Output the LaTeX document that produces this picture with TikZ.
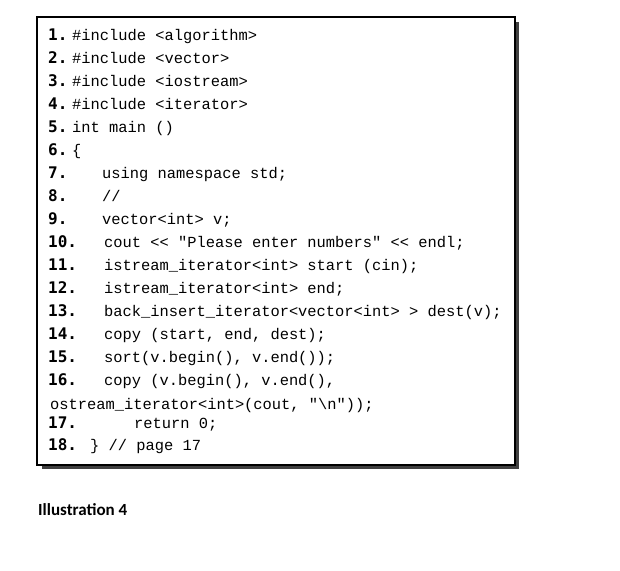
\documentclass[tikz,border=0pt]{standalone}
\usepackage{fontspec}
\setmainfont{Liberation Sans}
\setmonofont{Liberation Mono}
\newfontfamily\numfont{DejaVu Sans Mono}
\newfontfamily\capfont{Carlito}
\begin{document}
\begin{tikzpicture}[x=1pt,y=-1pt,
  num/.style={anchor=base west,inner sep=0pt,font=\numfont\bfseries\fontsize{16}{16}\selectfont},
  code/.style={anchor=base west,inner sep=0pt,font=\ttfamily\fontsize{15.4}{16}\selectfont}]
\useasboundingbox (0,0) rectangle (620,570);
\fill[black!75] (42,22) rectangle (519,469);
\draw[fill=white,line width=1.2pt] (37,17) rectangle (515,465);
\foreach \n/\y/\x/\t in {
 1/40/72/{\#include <algorithm>},
 2/63/72/{\#include <vector>},
 3/86/72/{\#include <iostream>},
 4/109/72/{\#include <iterator>},
 5/132/72/{int main ()},
 6/155/72/{\{},
 7/178/102/{using namespace std;},
 8/201/102/{//},
 9/224/102/{vector<int> v;},
 10/247/104/{cout << "Please enter numbers" << endl;},
 11/270/104/{istream\_iterator<int> start (cin);},
 12/293/104/{istream\_iterator<int> end;},
 13/316/104/{back\_insert\_iterator<vector<int> > dest(v);},
 14/339/104/{copy (start, end, dest);},
 15/362/104/{sort(v.begin(), v.end());},
 16/385/104/{copy (v.begin(), v.end(),},
 17/428/134/{return 0;},
 18/450/90/{\} // page 17}}{
  \node[num] (n\n) at (48,\y) {\n.};
  \node[code] (c\n) at (\x,\y) {\t};
}
\node[code] (c16b) at (50,409) {ostream\_iterator<int>(cout, "\textbackslash n"));};
\node[anchor=base west,inner sep=0pt,font=\capfont\bfseries\fontsize{17}{18}\selectfont] (cap) at (38,515) {Illustration 4};
\end{tikzpicture}
\end{document}
